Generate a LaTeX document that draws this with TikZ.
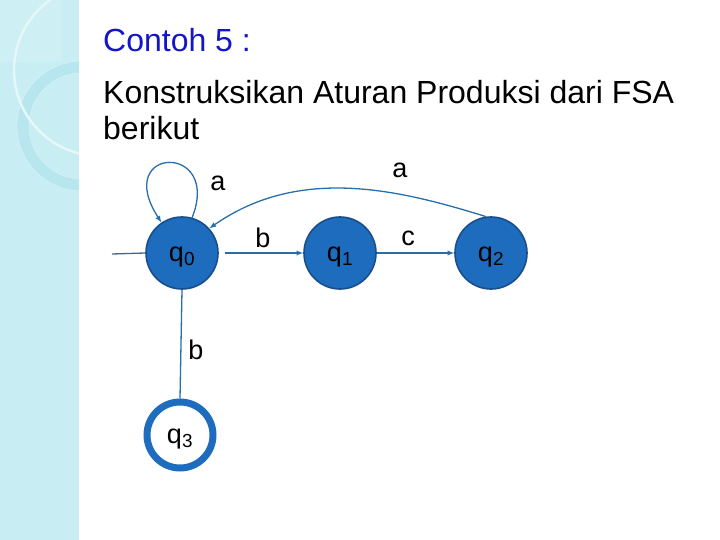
\documentclass[tikz,border=0pt]{standalone}
\usepackage{fontspec}
\setmainfont{Liberation Sans}
\usetikzlibrary{arrows.meta}
\definecolor{strip}{RGB}{200,238,243}
\definecolor{stripring}{RGB}{184,230,238}
\definecolor{qfill}{RGB}{30,108,190}
\definecolor{qborder}{RGB}{24,78,140}
\definecolor{edgeblue}{RGB}{40,110,172}
\definecolor{titleblue}{RGB}{20,20,200}

\tikzset{
  state/.style={circle,draw=qborder,fill=qfill,line width=1.6pt,minimum size=72pt,
    inner sep=0pt,text height=20pt,text depth=4pt,font=\fontsize{27}{27}\selectfont},
  accept/.style={circle,draw=qfill,fill=white,line width=7pt,minimum size=66pt,
    inner sep=0pt,text height=20pt,text depth=4pt,font=\fontsize{27}{27}\selectfont},
  edge/.style={draw=edgeblue,line width=1.3pt},
  lbl/.style={font=\fontsize{27}{27}\selectfont,inner sep=0pt},
  txt/.style={anchor=base west,inner sep=0pt,font=\fontsize{32}{32}\selectfont}
}

\begin{document}
\begin{tikzpicture}[x=1pt,y=-1pt,>=latex]
  \useasboundingbox (0,0) rectangle (720,540);
  % side strip
  \fill[strip] (0,0) rectangle (79,540);
  \begin{scope}
    \clip (0,0) rectangle (79,540);
    \fill[white,opacity=0.12] (0,0) rectangle (62,62);
    \draw[stripring,line width=12pt] (82,126) circle (59);
    \draw[white!40!strip,line width=0.4pt] (82,126) circle (65);
    \draw[white!40!strip,line width=0.4pt] (82,126) circle (53);
    \draw[white!55!strip,line width=2.5pt] (100,70) circle (86);
  \end{scope}

  \node[txt,text=titleblue] (title) at (103,52) {Contoh 5 :};
  \node[txt] (line1) at (103,104) {Konstruksikan Aturan Produksi dari FSA};
  \node[txt] (line2) at (103,140) {berikut};

  % states
  \node[state] (q0) at (182,253) {q\textsubscript{0}};
  \node[state] (q1) at (340,253) {q\textsubscript{1}};
  \node[state] (q2) at (491,253) {q\textsubscript{2}};
  \node[accept] (q3) at (180,435) {q\textsubscript{3}};
  \coordinate (start) at (112,254);

  % transitions
  \draw[edge] (start) -- (q0.west);
  \draw[edge,->,shorten <=6pt] (q0) -- (q1);
  \draw[edge,->] (q1) -- (q2);
  \draw[edge] (q0.south) -- (q3.north);
  \draw[edge,->] (q0.74) .. controls (222,142) and (112,146) .. (q0.124);
  \draw[edge,->] (q2.98) .. controls (400,190) and (300,165) .. (q0.42);

  % labels
  \node[lbl] (la0) at (218,183) {a};
  \node[lbl] (lb1) at (263,238) {b};
  \node[lbl] (lc2) at (408,238) {c};
  \node[lbl] (la2) at (400,170) {a};
  \node[lbl] (lb3) at (196,350) {b};
\end{tikzpicture}
\end{document}
